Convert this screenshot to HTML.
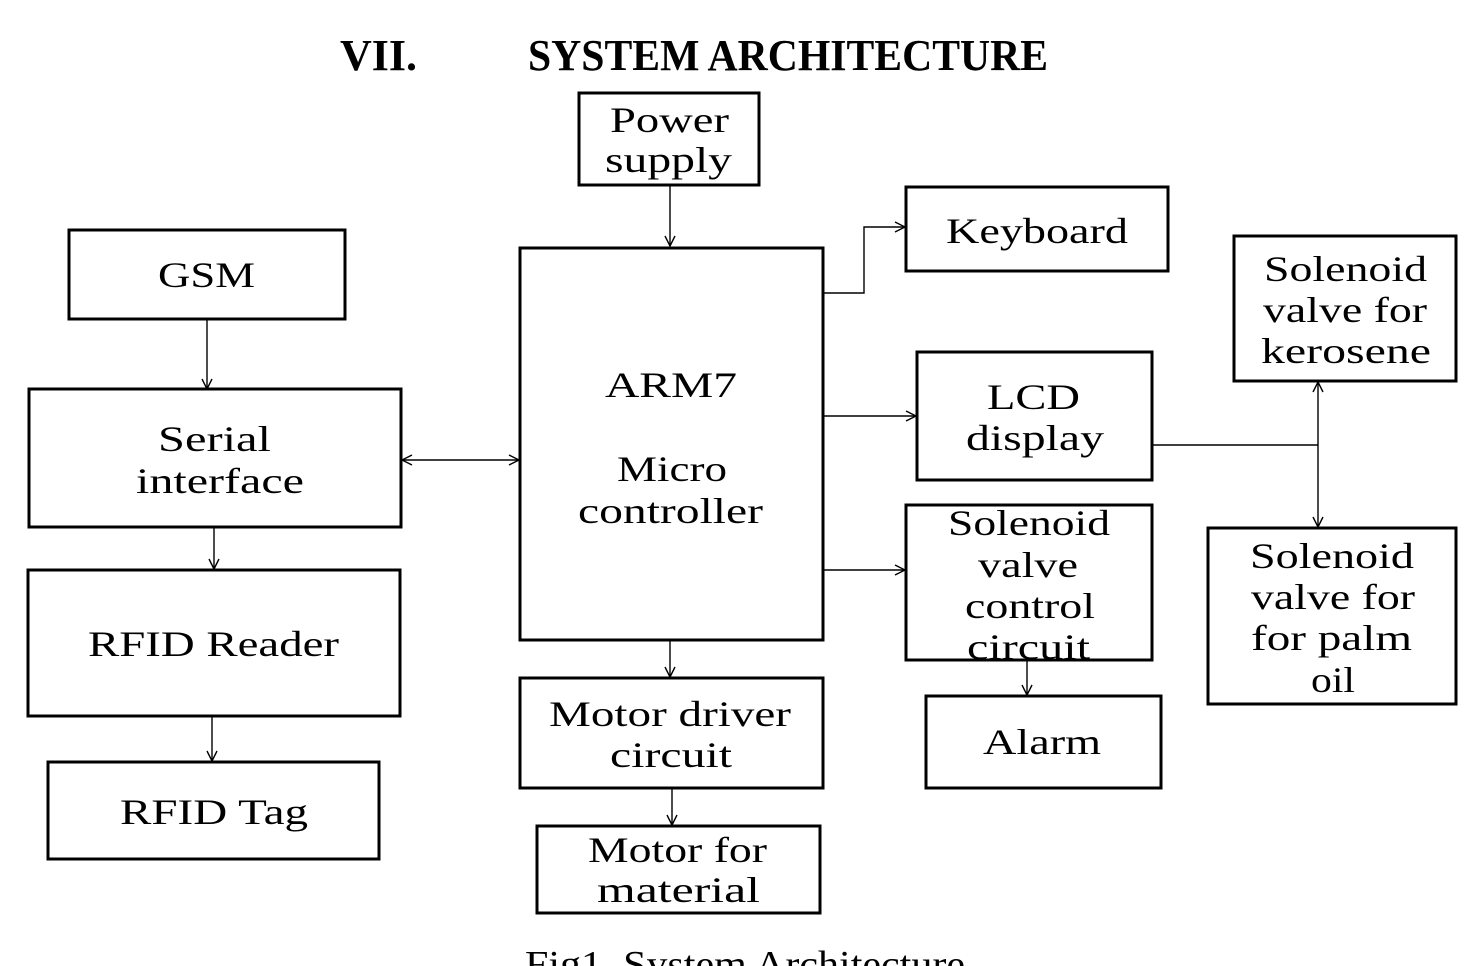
<!DOCTYPE html>
<html><head><meta charset="utf-8"><style>
html,body{margin:0;padding:0;background:#fff;}
svg{display:block;}
text{font-family:"Liberation Serif",serif;fill:#000;}
.b{fill:none;stroke:#000;stroke-width:3;}
.l{fill:none;stroke:#000;stroke-width:1.4;}
.t{font-size:36px;}
</style></head><body>
<svg width="1480" height="966" viewBox="0 0 1480 966" xmlns="http://www.w3.org/2000/svg">
<defs>
<marker id="a" viewBox="0 0 12 12" refX="11" refY="6" markerWidth="12" markerHeight="12" markerUnits="userSpaceOnUse" orient="auto-start-reverse">
<path d="M1,1 L11,6 L1,11" fill="none" stroke="#000" stroke-width="1.4"/>
</marker>
</defs>
<text x="340" y="70" style="font-size:44px;font-weight:bold">VII.</text>
<text x="528" y="70" style="font-size:44px;font-weight:bold" textLength="520" lengthAdjust="spacingAndGlyphs">SYSTEM ARCHITECTURE</text>

<rect class="b" x="579" y="93" width="180" height="92"/>
<text class="t" x="610" y="132" textLength="119" lengthAdjust="spacingAndGlyphs">Power</text>
<text class="t" x="605" y="172" textLength="127" lengthAdjust="spacingAndGlyphs">supply</text>

<rect class="b" x="69" y="230" width="276" height="89"/>
<text class="t" x="158" y="287" textLength="97" lengthAdjust="spacingAndGlyphs">GSM</text>

<rect class="b" x="29" y="389" width="372" height="138"/>
<text class="t" x="158" y="451" textLength="113" lengthAdjust="spacingAndGlyphs">Serial</text>
<text class="t" x="136" y="493" textLength="168" lengthAdjust="spacingAndGlyphs">interface</text>

<rect class="b" x="28" y="570" width="372" height="146"/>
<text class="t" x="88" y="656" textLength="251" lengthAdjust="spacingAndGlyphs">RFID Reader</text>

<rect class="b" x="48" y="762" width="331" height="97"/>
<text class="t" x="120" y="824" textLength="188" lengthAdjust="spacingAndGlyphs">RFID Tag</text>

<rect class="b" x="520" y="248" width="303" height="392"/>
<text class="t" x="605" y="397" textLength="132" lengthAdjust="spacingAndGlyphs">ARM7</text>
<text class="t" x="617" y="481" textLength="110" lengthAdjust="spacingAndGlyphs">Micro</text>
<text class="t" x="578" y="523" textLength="185" lengthAdjust="spacingAndGlyphs">controller</text>

<rect class="b" x="906" y="187" width="262" height="84"/>
<text class="t" x="946" y="243" textLength="182" lengthAdjust="spacingAndGlyphs">Keyboard</text>

<rect class="b" x="917" y="352" width="235" height="128"/>
<text class="t" x="987" y="409" textLength="93" lengthAdjust="spacingAndGlyphs">LCD</text>
<text class="t" x="966" y="450" textLength="138" lengthAdjust="spacingAndGlyphs">display</text>

<rect class="b" x="906" y="505" width="246" height="155"/>
<text class="t" x="948" y="535" textLength="162" lengthAdjust="spacingAndGlyphs">Solenoid</text>
<text class="t" x="978" y="577" textLength="100" lengthAdjust="spacingAndGlyphs">valve</text>
<text class="t" x="965" y="618" textLength="130" lengthAdjust="spacingAndGlyphs">control</text>
<text class="t" x="967" y="659" textLength="123" lengthAdjust="spacingAndGlyphs">circuit</text>

<rect class="b" x="926" y="696" width="235" height="92"/>
<text class="t" x="983" y="754" textLength="118" lengthAdjust="spacingAndGlyphs">Alarm</text>

<rect class="b" x="520" y="678" width="303" height="110"/>
<text class="t" x="549" y="726" textLength="242" lengthAdjust="spacingAndGlyphs">Motor driver</text>
<text class="t" x="610" y="767" textLength="122" lengthAdjust="spacingAndGlyphs">circuit</text>

<rect class="b" x="537" y="826" width="283" height="87"/>
<text class="t" x="588" y="862" textLength="179" lengthAdjust="spacingAndGlyphs">Motor for</text>
<text class="t" x="597" y="902" textLength="163" lengthAdjust="spacingAndGlyphs">material</text>

<rect class="b" x="1234" y="236" width="222" height="145"/>
<text class="t" x="1264" y="281" textLength="163" lengthAdjust="spacingAndGlyphs">Solenoid</text>
<text class="t" x="1263" y="322" textLength="164" lengthAdjust="spacingAndGlyphs">valve for</text>
<text class="t" x="1261" y="363" textLength="170" lengthAdjust="spacingAndGlyphs">kerosene</text>

<rect class="b" x="1208" y="528" width="248" height="176"/>
<text class="t" x="1250" y="568" textLength="164" lengthAdjust="spacingAndGlyphs">Solenoid</text>
<text class="t" x="1251" y="609" textLength="164" lengthAdjust="spacingAndGlyphs">valve for</text>
<text class="t" x="1251" y="650" textLength="161" lengthAdjust="spacingAndGlyphs">for palm</text>
<text class="t" x="1311" y="692" textLength="44" lengthAdjust="spacingAndGlyphs">oil</text>

<line class="l" x1="670" y1="185" x2="670" y2="246" marker-end="url(#a)"/>
<line class="l" x1="207" y1="319" x2="207" y2="389" marker-end="url(#a)"/>
<line class="l" x1="402" y1="460" x2="519" y2="460" marker-start="url(#a)" marker-end="url(#a)"/>
<line class="l" x1="214" y1="527" x2="214" y2="569" marker-end="url(#a)"/>
<line class="l" x1="212" y1="716" x2="212" y2="761" marker-end="url(#a)"/>
<polyline class="l" points="823,293 864,293 864,227 905,227" marker-end="url(#a)"/>
<line class="l" x1="823" y1="416" x2="916" y2="416" marker-end="url(#a)"/>
<line class="l" x1="823" y1="570" x2="905" y2="570" marker-end="url(#a)"/>
<line class="l" x1="670" y1="640" x2="670" y2="677" marker-end="url(#a)"/>
<line class="l" x1="672" y1="788" x2="672" y2="825" marker-end="url(#a)"/>
<line class="l" x1="1027" y1="660" x2="1027" y2="695" marker-end="url(#a)"/>
<line class="l" x1="1152" y1="445" x2="1318" y2="445"/>
<line class="l" x1="1318" y1="382" x2="1318" y2="527" marker-start="url(#a)" marker-end="url(#a)"/>

<text x="525" y="977" style="font-size:38px" textLength="440" lengthAdjust="spacingAndGlyphs">Fig1. System Architecture</text>
</svg>
</body></html>
